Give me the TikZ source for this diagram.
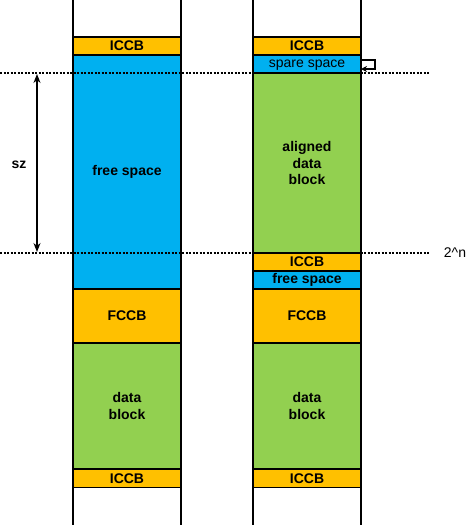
\documentclass[tikz,border=0pt]{standalone}
\usepackage{fontspec}
\setmainfont{Liberation Sans}
\usepackage{tikz}
\usetikzlibrary{calc,positioning,arrows.meta}
\definecolor{ccbor}{HTML}{FFC000}
\definecolor{spblue}{HTML}{00B0F0}
\definecolor{blkgreen}{HTML}{92D050}
\tikzset{
  block/.style={draw, line width=1.5pt, minimum width=108pt, inner sep=0pt,
  outer sep=0pt, align=center, font=\bfseries\fontsize{14}{16.5}\selectfont},
  ccb/.style={block, fill=ccbor},
  spc/.style={block, fill=spblue},
  dat/.style={block, fill=blkgreen},
  guide/.style={line width=1.2pt, dash pattern=on 2pt off 1.5pt},
  wall/.style={line width=1.5pt},
  lbl/.style={inner sep=0pt, font=\fontsize{14}{16.5}\selectfont}
}
\begin{document}
\begin{tikzpicture}[x=1pt,y=-1pt]
\useasboundingbox (0,0) rectangle (474,525);
\coordinate (top) at (0,0);
\coordinate (bot) at (0,525);
% left column
\node[ccb, minimum height=18pt, anchor=north] (lic1) at (127,37) {ICCB};
\node[spc, minimum height=234pt, below=0pt of lic1] (lfree) {free space};
\node[ccb, minimum height=54pt, below=0pt of lfree] (lfccb) {FCCB};
\node[dat, minimum height=126pt, below=0pt of lfccb] (ldata) {data\\block};
\node[ccb, minimum height=18.5pt, below=0pt of ldata] (lic2) {ICCB};
% right column
\node[ccb, minimum height=18pt, anchor=north] (ric1) at (307,37) {ICCB};
\node[spc, minimum height=18pt, below=0pt of ric1, text depth=0pt,
	font=\fontsize{14}{16.5}\selectfont] (rspare) {spare space};
\node[dat, minimum height=180pt, below=0pt of rspare] (raligned)
	{aligned\\data\\block};
\node[ccb, minimum height=18pt, below=0pt of raligned] (ric2) {ICCB};
\node[spc, minimum height=18pt, below=0pt of ric2] (rfree) {free space};
\node[ccb, minimum height=54pt, below=0pt of rfree] (rfccb) {FCCB};
\node[dat, minimum height=126pt, below=0pt of rfccb] (rdata) {data\\block};
\node[ccb, minimum height=18.5pt, below=0pt of rdata] (ric3) {ICCB};
\foreach \c in {lic1,ric1}{
	\draw[wall] (\c.west |- top) -- (\c.west |- bot);
	\draw[wall] (\c.east |- top) -- (\c.east |- bot);
}
% alignment lines
\coordinate (g1) at (0,73);
\coordinate (g1e) at (430,73);
\coordinate (g2) at (0,253);
\coordinate (g2e) at (430,253);
\draw[guide] (g1) -- (g1e);
\draw[guide] (g2) -- (g2e);
\node[lbl] (pow) at (455,253) {2\textasciicircum n};
\coordinate (szt) at (37,74);
\coordinate (szb) at (37,252);
\draw[line width=1.3pt, {Stealth[length=9pt,width=7pt]}-{Stealth[length=9pt,width=7pt]}]
	(szt) -- (szb);
\node[lbl, font=\bfseries\fontsize{14}{16.5}\selectfont] (sz) at (19,165) {sz};
\draw[line width=1.3pt, -{Stealth[length=6pt,width=6pt]}] ([yshift=4pt]rspare.east)
	-- ++(14,0) |- ([yshift=-5pt]rspare.east);
\end{tikzpicture}
\end{document}
